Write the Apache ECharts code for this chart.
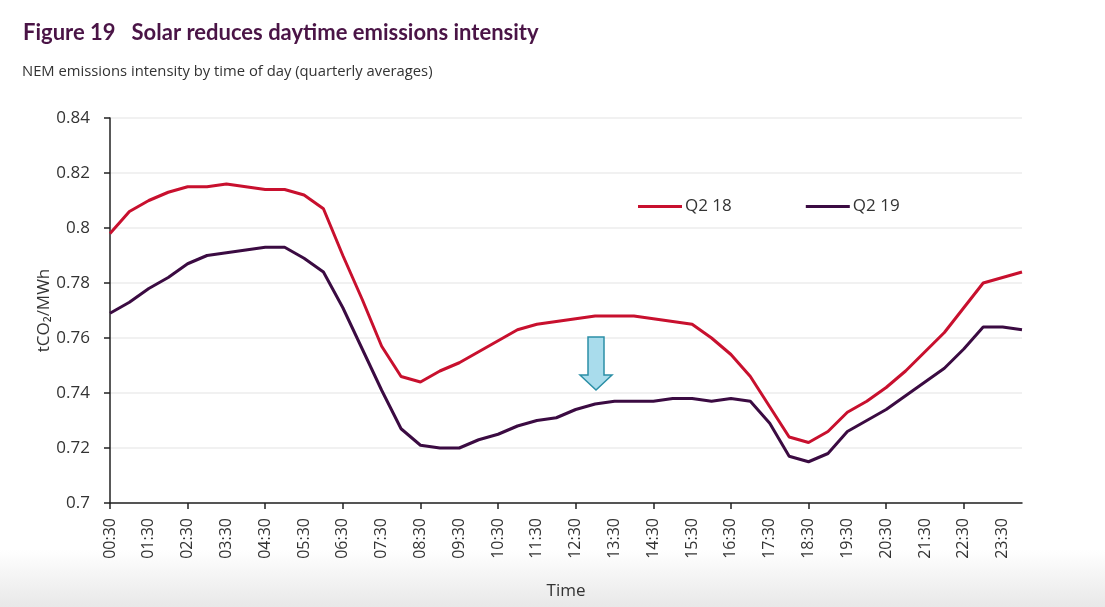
<!DOCTYPE html>
<html>
<head>
<meta charset="utf-8">
<script src="https://cdn.jsdelivr.net/npm/echarts@6/dist/echarts.min.js"></script>
<style>
  html, body { margin: 0; padding: 0; background: #fff; }
  #chart { width: 1105px; height: 607px; }
</style>
</head>
<body>
<div id="chart"></div>
<script>
// half-hourly time slots, 00:30 .. 24:00
const times = [
  '00:30', '01:00', '01:30', '02:00', '02:30', '03:00', '03:30', '04:00',
  '04:30', '05:00', '05:30', '06:00', '06:30', '07:00', '07:30', '08:00',
  '08:30', '09:00', '09:30', '10:00', '10:30', '11:00', '11:30', '12:00',
  '12:30', '13:00', '13:30', '14:00', '14:30', '15:00', '15:30', '16:00',
  '16:30', '17:00', '17:30', '18:00', '18:30', '19:00', '19:30', '20:00',
  '20:30', '21:00', '21:30', '22:00', '22:30', '23:00', '23:30', '24:00'
]

// tCO2/MWh, Q2 2018
const q218 = [
  0.798, 0.806, 0.810, 0.813, 0.815, 0.815, 0.816, 0.815,
  0.814, 0.814, 0.812, 0.807, 0.790, 0.774, 0.757, 0.746,
  0.744, 0.748, 0.751, 0.755, 0.759, 0.763, 0.765, 0.766,
  0.767, 0.768, 0.768, 0.768, 0.767, 0.766, 0.765, 0.760,
  0.754, 0.746, 0.735, 0.724, 0.722, 0.726, 0.733, 0.737,
  0.742, 0.748, 0.755, 0.762, 0.771, 0.780, 0.782, 0.784
]

// tCO2/MWh, Q2 2019
const q219 = [
  0.769, 0.773, 0.778, 0.782, 0.787, 0.790, 0.791, 0.792,
  0.793, 0.793, 0.789, 0.784, 0.771, 0.756, 0.741, 0.727,
  0.721, 0.720, 0.720, 0.723, 0.725, 0.728, 0.730, 0.731,
  0.734, 0.736, 0.737, 0.737, 0.737, 0.738, 0.738, 0.737,
  0.738, 0.737, 0.729, 0.717, 0.715, 0.718, 0.726, 0.730,
  0.734, 0.739, 0.744, 0.749, 0.756, 0.764, 0.764, 0.763
]

const yTicks = { min: 0.7, max: 0.84, interval: 0.02 }

const chart = echarts.init(document.getElementById('chart'))

const textFont = "'Open Sans', 'DejaVu Sans', sans-serif"

chart.setOption({
  backgroundColor: '#fff',
  animation: false,
  title: [
    {
      text: 'Figure 19   Solar reduces daytime emissions intensity',
      left: 18,
      top: 17,
      textStyle: { fontFamily: 'Lato', fontWeight: 'bold', fontSize: 22, color: '#4a1446' }
    },
    {
      text: 'NEM emissions intensity by time of day (quarterly averages)',
      left: 17,
      top: 59,
      textStyle: { fontFamily: textFont, fontWeight: 'normal', fontSize: 14.8, color: '#333' }
    }
  ],
  legend: {
    left: 633,
    top: 193,
    itemWidth: 44,
    itemHeight: 3,
    itemGap: 74,
    icon: 'rect',
    textStyle: { fontFamily: textFont, fontSize: 17, color: '#333', padding: [0, 0, 0, -2] },
    data: ['Q2 18', 'Q2 19']
  },
  grid: { left: 110, right: 83, top: 118, bottom: 104 },
  xAxis: {
    type: 'category',
    data: times,
    boundaryGap: false,
    name: 'Time',
    nameLocation: 'middle',
    nameGap: 80,
    nameMoveOverlap: false,
    nameTextStyle: { fontFamily: textFont, fontSize: 17, color: '#333' },
    axisLine: { lineStyle: { color: '#222', width: 1.5 } },
    axisTick: { interval: 3, length: 6, lineStyle: { color: '#222', width: 1.5 } },
    axisLabel: {
      interval: 1,
      rotate: 90,
      margin: 15,
      fontFamily: textFont,
      fontSize: 16,
      color: '#333'
    },
    splitLine: { show: false }
  },
  yAxis: {
    type: 'value',
    min: yTicks.min,
    max: yTicks.max,
    interval: yTicks.interval,
    name: 'tCO₂/MWh',
    nameLocation: 'middle',
    nameGap: 57,
    nameMoveOverlap: false,
    nameTextStyle: { fontFamily: textFont, fontSize: 17, color: '#333' },
    axisLine: { show: true, lineStyle: { color: '#222', width: 1.5 } },
    axisTick: { show: true, length: 6, lineStyle: { color: '#222', width: 1.5 } },
    axisLabel: { margin: 20, fontFamily: textFont, fontSize: 17, color: '#333' },
    splitLine: { lineStyle: { color: '#ececec', width: 1.5 } }
  },
  series: [
    {
      name: 'Q2 18',
      type: 'line',
      data: q218,
      showSymbol: false,
      symbol: 'none',
      lineStyle: { color: '#c8102e', width: 3 },
      itemStyle: { color: '#c8102e' }
    },
    {
      name: 'Q2 19',
      type: 'line',
      data: q219,
      showSymbol: false,
      symbol: 'none',
      lineStyle: { color: '#3b0b42', width: 3 },
      itemStyle: { color: '#3b0b42' }
    }
  ],
  graphic: [
    // soft grey band at the bottom of the screenshot
    {
      type: 'rect',
      left: 0,
      top: 550,
      z: -10,
      shape: { width: 1105, height: 57 },
      style: {
        fill: new echarts.graphic.LinearGradient(0, 0, 0, 1, [
          { offset: 0, color: 'rgba(255,255,255,1)' },
          { offset: 1, color: 'rgba(232,232,232,1)' }
        ])
      },
      silent: true
    },
    // down arrow annotation
    {
      type: 'polygon',
      z: 10,
      shape: {
        points: [
          [588, 337], [604, 337], [604, 375], [612, 375],
          [596, 390], [580, 375], [588, 375]
        ]
      },
      style: { fill: '#a9dcec', stroke: '#2b8fa6', lineWidth: 1.5 }
    }
  ]
})
</script>
</body>
</html>
